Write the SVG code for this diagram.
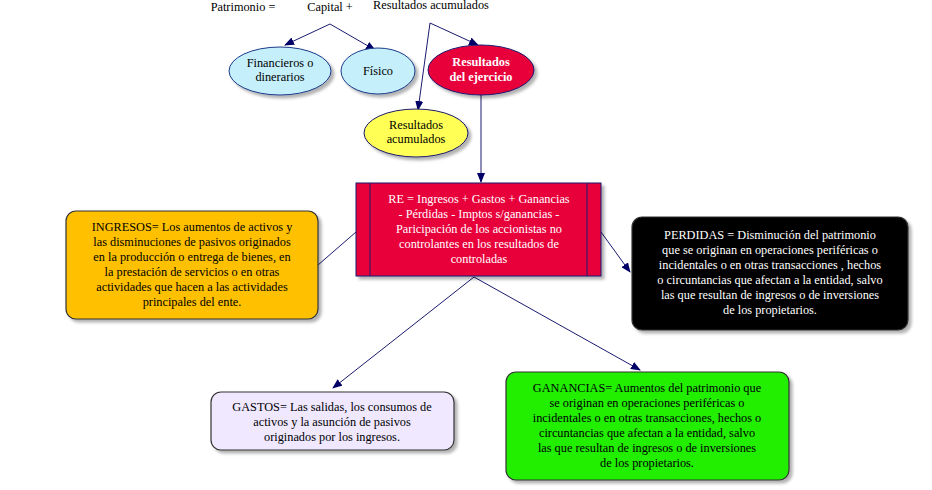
<svg xmlns="http://www.w3.org/2000/svg" width="932" height="490" viewBox="0 0 932 490">
<style>
text{font-family:"Liberation Serif",serif;font-size:12.3px;fill:#000;text-anchor:middle}
.w{fill:#fff}
.b{font-weight:bold}
.c{stroke:#1a1a6e;stroke-width:1;fill:none}
.box{stroke:#333;stroke-width:1.2}
</style>
<defs>
<marker id="a" markerWidth="10" markerHeight="8" refX="9" refY="4" orient="auto" markerUnits="userSpaceOnUse"><path d="M0,0 L10,4 L0,8z" fill="#000066"/></marker>
<filter id="s" x="-10%" y="-10%" width="130%" height="130%"><feDropShadow dx="3" dy="3" stdDeviation="1.5" flood-color="#000" flood-opacity="0.3"/></filter>
</defs>
<rect width="932" height="490" fill="#fff"/>
<g id="header">
<text x="243" y="11">Patrimonio =</text>
<text x="330" y="11">Capital +</text>
<text x="431" y="9">Resultados acumulados</text>
</g>
<g id="connectors" class="c">
<polyline points="330,24 285,45" marker-end="url(#a)"/>
<polyline points="330,24 375,50" marker-end="url(#a)"/>
<polyline points="430,23 418,110" marker-end="url(#a)"/>
<polyline points="430,23 478,45" marker-end="url(#a)"/>
<polyline points="481,95 481,182" marker-end="url(#a)"/>
<polyline points="356,232 318,265"/>
<polyline points="601,232 630,272" marker-end="url(#a)"/>
<polyline points="474,277 333,388" marker-end="url(#a)"/>
<polyline points="474,277 640,370" marker-end="url(#a)"/>
</g>
<g id="financieros" filter="url(#s)"><ellipse cx="280" cy="71" rx="51" ry="24" fill="#c5effa" stroke="#1a3a8a"/></g>
<g><text x="280" y="67">Financieros o</text><text x="280" y="81">dinerarios</text></g>
<g id="fisico" filter="url(#s)"><ellipse cx="378" cy="71" rx="37" ry="23" fill="#c5effa" stroke="#1a3a8a"/></g>
<g><text x="378" y="75">Físico</text></g>
<g id="resejercicio" filter="url(#s)"><ellipse cx="481" cy="70" rx="53" ry="25" fill="#e8003a" stroke="#1a1a6e"/></g>
<g><text class="w b" x="481" y="66">Resultados</text><text class="w b" x="481" y="81">del ejercicio</text></g>
<g id="resacum" filter="url(#s)"><ellipse cx="416" cy="133" rx="52" ry="24" fill="#ffff55" stroke="#1a1a6e"/></g>
<g><text x="416" y="129">Resultados</text><text x="416" y="143">acumulados</text></g>
<g id="re">
<rect x="356" y="183" width="245" height="93" fill="#e8003a" stroke="#1a1a6e" filter="url(#s)"/>
<line x1="370" y1="183" x2="370" y2="276" stroke="#1a1a6e"/>
<line x1="587" y1="183" x2="587" y2="276" stroke="#1a1a6e"/>
<text class="w" x="479" y="203">RE = Ingresos + Gastos + Ganancias</text>
<text class="w" x="479" y="218">- Pérdidas - Imptos s/ganancias -</text>
<text class="w" x="479" y="233">Paricipación de los accionistas no</text>
<text class="w" x="479" y="248">controlantes en los resultados de</text>
<text class="w" x="479" y="263">controladas</text>
</g>
<g id="ingresos">
<rect x="66" y="211" width="252" height="108" rx="10" fill="#ffc000" class="box" filter="url(#s)"/>
<text x="192" y="231">INGRESOS= Los aumentos de activos y</text>
<text x="192" y="246">las disminuciones de pasivos originados</text>
<text x="192" y="261">en la producción o entrega de bienes, en</text>
<text x="192" y="276">la prestación de servicios o en otras</text>
<text x="192" y="291">actividades que hacen a las actividades</text>
<text x="192" y="306">principales del ente.</text>
</g>
<g id="perdidas">
<rect x="632" y="217" width="276" height="113" rx="10" fill="#000" class="box" filter="url(#s)"/>
<text class="w" x="770" y="239">PERDIDAS = Disminución del patrimonio</text>
<text class="w" x="770" y="254">que se originan en operaciones periféricas o</text>
<text class="w" x="770" y="269">incidentales o en otras transacciones , hechos</text>
<text class="w" x="770" y="284">o circuntancias que afectan a la entidad, salvo</text>
<text class="w" x="770" y="299">las que resultan de ingresos o de inversiones</text>
<text class="w" x="770" y="314">de los propietarios.</text>
</g>
<g id="gastos">
<rect x="211" y="392" width="243" height="58" rx="10" fill="#efe8ff" class="box" filter="url(#s)"/>
<text x="332" y="411">GASTOS= Las salidas, los consumos de</text>
<text x="332" y="426">activos y la asunción de pasivos</text>
<text x="332" y="441">originados por los ingresos.</text>
</g>
<g id="ganancias">
<rect x="506" y="372" width="283" height="108" rx="10" fill="#22ee00" class="box" filter="url(#s)"/>
<text x="647" y="392">GANANCIAS= Aumentos del patrimonio que</text>
<text x="647" y="407">se originan en operaciones periféricas o</text>
<text x="647" y="422">incidentales o en otras transacciones, hechos o</text>
<text x="647" y="437">circuntancias que afectan a la entidad, salvo</text>
<text x="647" y="452">las que resultan de ingresos o de inversiones</text>
<text x="647" y="467">de los propietarios.</text>
</g>
</svg>
